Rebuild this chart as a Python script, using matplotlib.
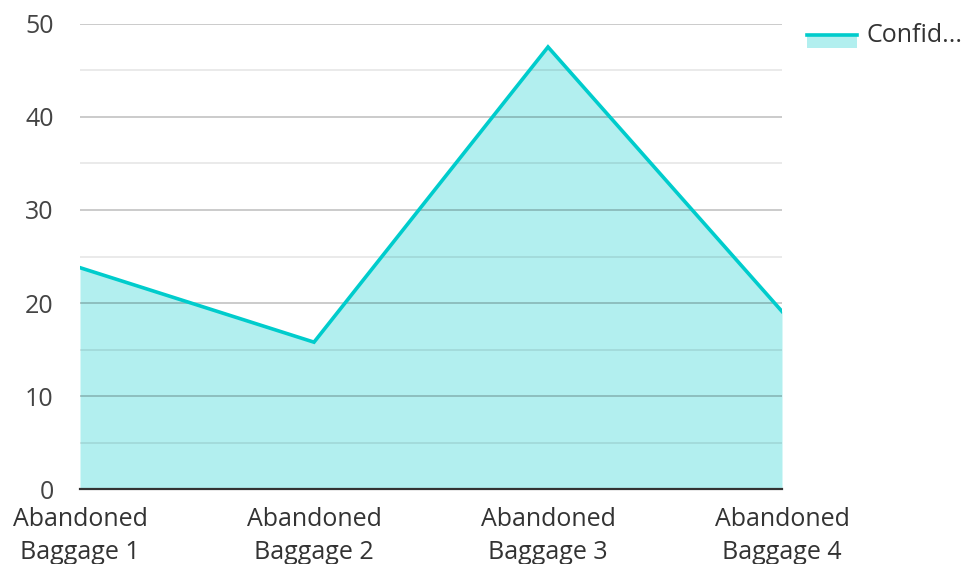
import numpy as np
import matplotlib
matplotlib.use('Agg')
import matplotlib.pyplot as plt
from matplotlib.patches import Rectangle
from matplotlib.lines import Line2D

categories = ['Abandoned\nBaggage 1', 'Abandoned\nBaggage 2',
              'Abandoned\nBaggage 3', 'Abandoned\nBaggage 4']
confidence = [23.8, 15.8, 47.5, 19.1]
series_name = 'Confid...'
y_ticks = [0, 10, 20, 30, 40, 50]

teal = '#00CCCC'

plt.rcParams['font.family'] = ['Open Sans', 'DejaVu Sans']

fig = plt.figure(figsize=(9.64, 5.64), dpi=100)
ax = fig.add_axes([80 / 964, 1 - 489.3 / 564, 702 / 964, (489.3 - 23.7) / 564])

x = np.arange(len(confidence))
ax.fill_between(x, confidence, 0, color=teal, alpha=0.3, linewidth=0, zorder=1)
ax.plot(x, confidence, color=teal, linewidth=2.6, zorder=3, solid_joinstyle='miter')

ax.set_xlim(0, len(confidence) - 1)
ax.set_ylim(0, 50)

# gridlines: major every 10, minor every 5 (semi-transparent, drawn over the fill)
ax.set_yticks(y_ticks)
ax.set_yticks(np.arange(5, 50, 10), minor=True)
ax.grid(axis='y', which='major', color='black', alpha=0.22, linewidth=1.3, zorder=2)
ax.grid(axis='y', which='minor', color='black', alpha=0.09, linewidth=1.3, zorder=2)
ax.set_axisbelow(False)
ax.xaxis.grid(False)

ax.set_xticks(x)
ax.set_xticklabels(categories, fontsize=18, color='#333333', linespacing=1.4)
ax.tick_params(axis='x', length=0, pad=13)
ax.tick_params(axis='y', which='both', length=0, pad=19, labelsize=18, labelcolor='#444444')

for s in ['top', 'right', 'left']:
    ax.spines[s].set_visible(False)
ax.spines['bottom'].set_color('#333333')
ax.spines['bottom'].set_linewidth(1.6)
ax.spines['bottom'].set_zorder(4)

# legend swatch
W, H = 964, 564
fig.add_artist(Rectangle((807 / W, 1 - 47.5 / H), 50 / W, 11 / H,
                         transform=fig.transFigure, color=teal, alpha=0.3, linewidth=0))
fig.add_artist(Line2D([807 / W, 857 / W], [1 - 35 / H, 1 - 35 / H],
                      transform=fig.transFigure, color=teal, linewidth=2.6))
fig.text(866 / W, 1 - 36 / H, series_name, fontsize=18, color='#333333', va='center', ha='left')

fig.savefig('out.png', dpi=100)
